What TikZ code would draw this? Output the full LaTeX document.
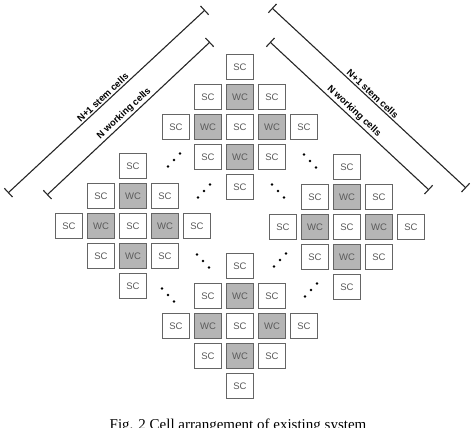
\documentclass[tikz,border=0pt]{standalone}
\usepackage{fontspec}
\setmainfont{Liberation Serif}
\setsansfont{Liberation Sans}
\usetikzlibrary{arrows.meta}
\definecolor{cellgray}{HTML}{B5B5B5}
\definecolor{edgegray}{HTML}{656565}
\definecolor{txtgray}{HTML}{5A5A5A}
\begin{document}
\begin{tikzpicture}[x=1pt,y=-1pt,
	sc/.style={draw=edgegray,line width=1.3pt,fill=white,minimum width=27pt,minimum height=25pt,inner sep=0pt,font=\sffamily\fontsize{9.5}{10}\selectfont,text=txtgray},
	wc/.style={sc,fill=cellgray},
	span/.style={line width=1.1pt,draw=black!85,{Bar[width=12pt]}-{Bar[width=12pt]}},
	spanlabel/.style={midway,sloped,above,inner sep=1.5pt,font=\sffamily\bfseries\fontsize{9.5}{10}\selectfont}]
	\useasboundingbox (0,0) rectangle (474,428);
	% the four groups of cells
	\foreach \cx/\cy/\cn in {240/127/t,133/226/l,347/227/r,240/326/b}{
		\foreach \r/\c in {1/3,2/2,2/4,3/1,3/3,3/5,4/2,4/4,5/3}
			\node[sc] (\cn\r\c) at ({\cx+(\c-3)*32},{\cy+(\r-3)*30}) {SC};
		\foreach \r/\c in {2/3,3/2,3/4,4/3}
			\node[wc] (\cn\r\c) at ({\cx+(\c-3)*32},{\cy+(\r-3)*30}) {WC};
	}
	\foreach \dx/\dy/\s in {174/160/1,204/191/1,280/260/1,311/290/1,310/161/-1,278/191/-1,203/261/-1,168/295/-1}
		\foreach \k in {-1,0,1}
			\fill ({\dx+(\k)*6},{\dy-(\s)*(\k)*6.5}) circle (1.4pt);
	\coordinate (lo1) at (8,193); \coordinate (lo2) at (205,10);
	\coordinate (li1) at (47,195); \coordinate (li2) at (210,42);
	\coordinate (ro1) at (272,8); \coordinate (ro2) at (466,188);
	\coordinate (ri1) at (270,42); \coordinate (ri2) at (429,190);
	\draw[span] (lo1) -- node[spanlabel] {N+1 stem cells} (lo2);
	\draw[span] (li1) -- node[spanlabel] {N working cells} (li2);
	\draw[span] (ro1) -- node[spanlabel] {N+1 stem cells} (ro2);
	\draw[span] (ri1) -- node[spanlabel] {N working cells} (ri2);
	\node[anchor=base,font=\fontsize{15}{18}\selectfont] (caption) at (238,429) {Fig. 2 Cell arrangement of existing system};
\end{tikzpicture}
\end{document}
